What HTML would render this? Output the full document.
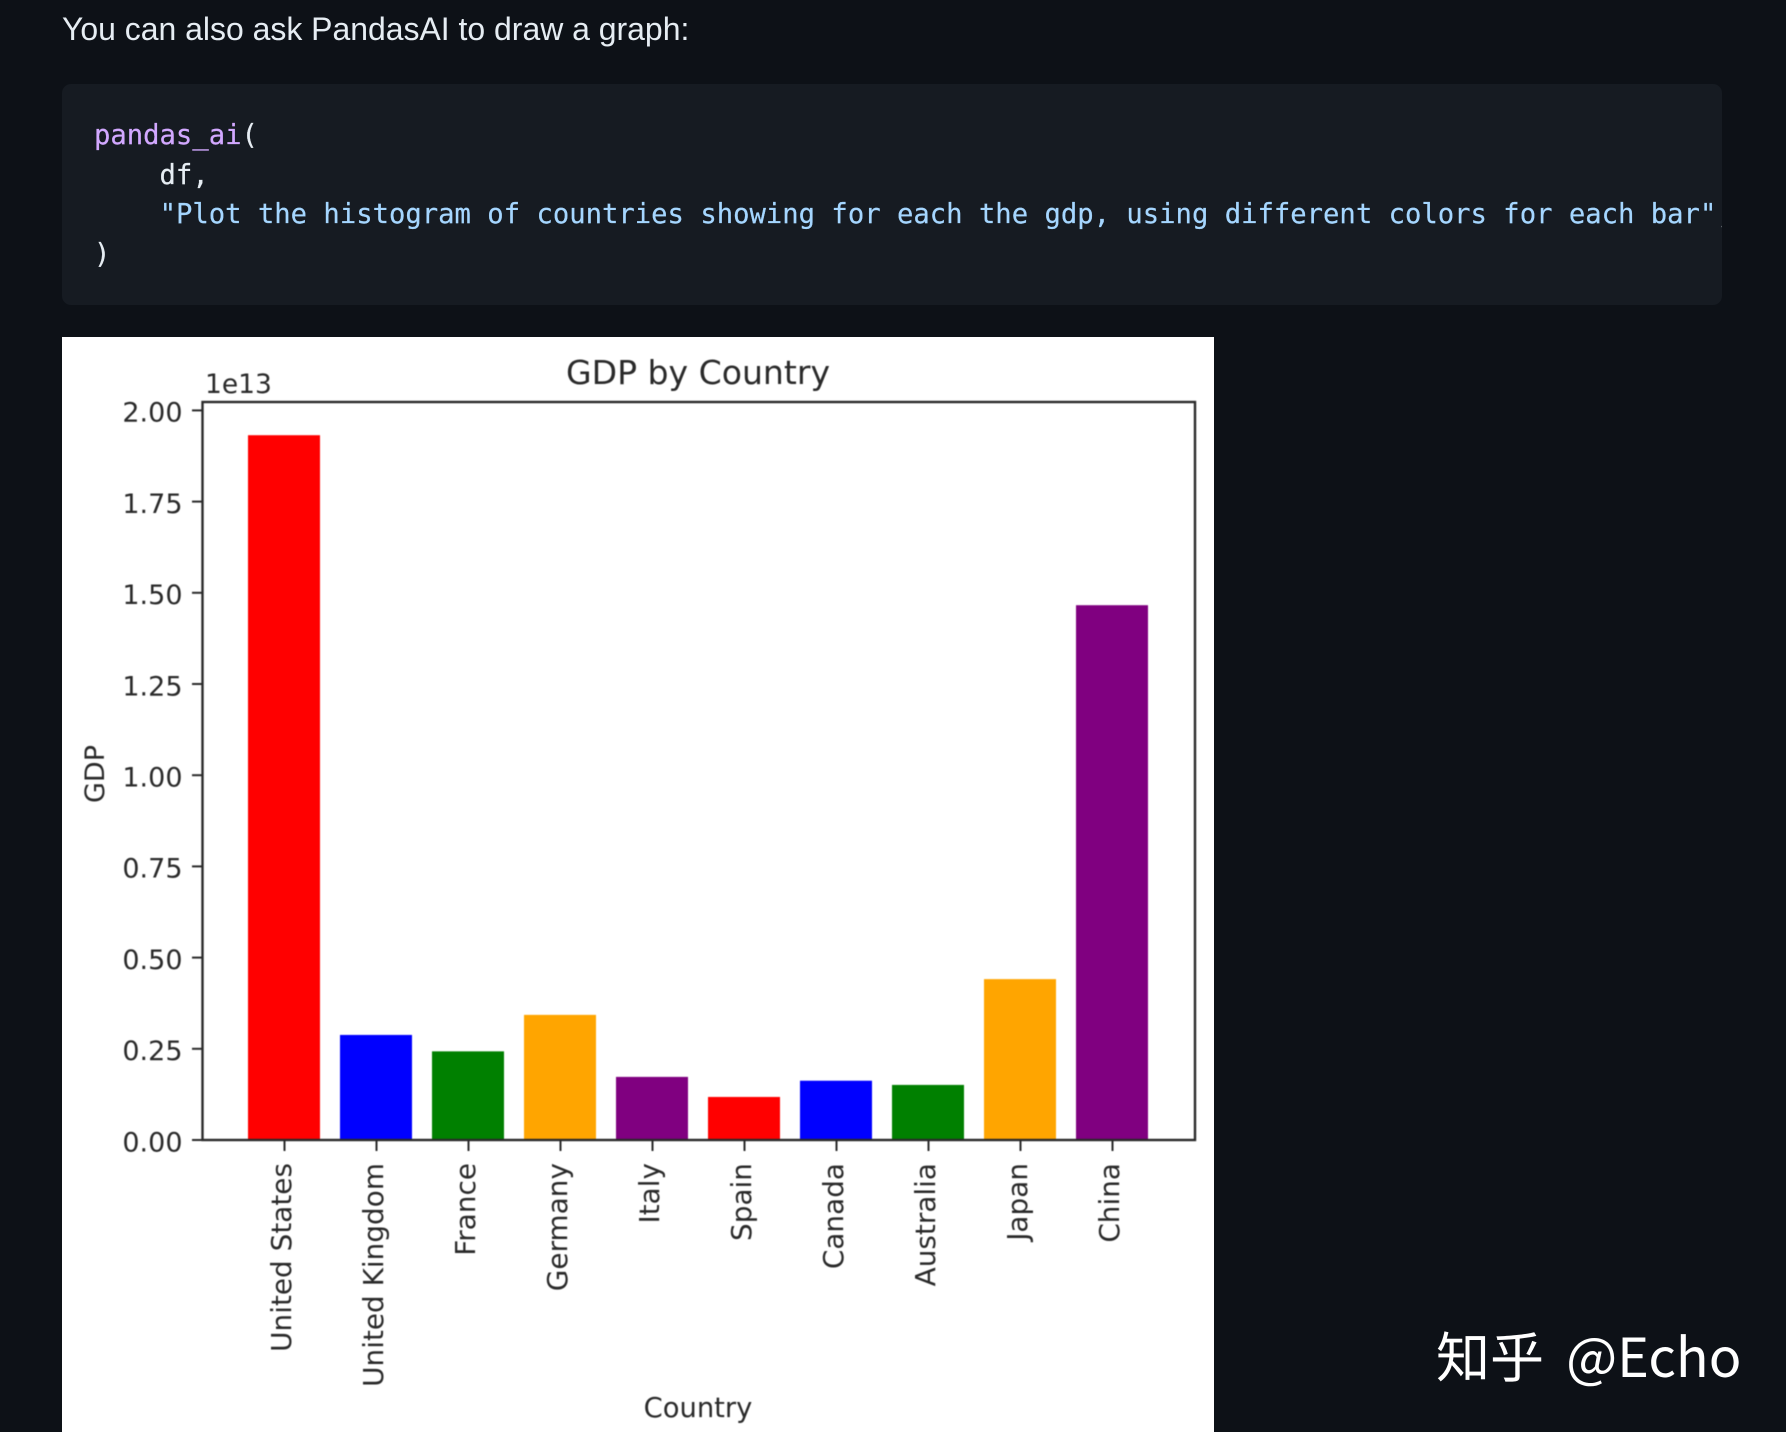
<!DOCTYPE html>
<html lang="en">
<head>
<meta charset="utf-8">
<title>PandasAI GDP chart</title>
<style>
html,body{margin:0;padding:0;width:1786px;height:1432px;overflow:hidden;background:#0d1117}
body{position:relative}
#intro{position:absolute;left:62px;top:9px;font:31.95px/40px "Liberation Sans",sans-serif;color:#e6edf3;white-space:nowrap}
#code{position:absolute;left:62px;top:84px;width:1659.5px;height:220.5px;background:#161b22;border-radius:9px;overflow:hidden}
#code pre{position:absolute;left:32px;top:32px;right:0;margin:0;overflow:hidden;font:27.22px/39.5px "DejaVu Sans Mono","Liberation Mono",monospace;color:#e6edf3;-webkit-text-stroke:.2px currentColor}
.fn{color:#d2a8ff}.str{color:#a5d6ff}
#chart{position:absolute;left:0;top:0}
.soft{filter:blur(.4px)}
#mark{position:absolute;left:1436px;top:1319px;font:400 54px/70px "Noto Sans CJK SC","Liberation Sans",sans-serif;word-spacing:10px;color:#fff;white-space:nowrap}
</style>
</head>
<body>
<div id="intro">You can also ask PandasAI to draw a graph:</div>
<div id="code"><pre><span class="fn">pandas_ai</span>(
    df,
    <span class="str">"Plot the histogram of countries showing for each the gdp, using different colors for each bar"</span>,
)</pre></div>
<svg id="chart" width="1786" height="1432" viewBox="0 0 1786 1432" xmlns="http://www.w3.org/2000/svg">
<rect x="62" y="337" width="1152" height="1095" fill="#fff"/>
<g class="soft">
<g id="bars"></g>
<g id="axes"></g>
<rect x="202.5" y="402" width="992.5" height="738" fill="none" stroke="#2a2a2a" stroke-width="2.4"/>
<g font-family="'DejaVu Sans',sans-serif" fill="#2a2a2a">
<text x="698" y="384" text-anchor="middle" font-size="33.1">GDP by Country</text>
<text x="205" y="393" font-size="26.5">1e13</text>
<text x="698" y="1417" text-anchor="middle" font-size="27.4">Country</text>
<text x="104" y="774" text-anchor="middle" font-size="27" transform="rotate(-90 104 774)">GDP</text>
</g>
</g>
</svg>
<div id="mark">知乎 @Echo</div>
<script>
const countries = ["United States","United Kingdom","France","Germany","Italy","Spain","Canada","Australia","Japan","China"];
const gdp = [1.932e13,0.288e13,0.243e13,0.343e13,0.173e13,0.118e13,0.1625e13,0.151e13,0.441e13,1.466e13];
const barColors = ["red","blue","green","orange","purple","red","blue","green","orange","purple"];
const yTicks = [0,0.25e13,0.5e13,0.75e13,1e13,1.25e13,1.5e13,1.75e13,2e13];
const yTickLabels = ["0.00","0.25","0.50","0.75","1.00","1.25","1.50","1.75","2.00"];

const NS = "http://www.w3.org/2000/svg";
const xScale = function (i) { return 284 + 92 * i; };
const yScale = function (v) { return 1140 - (v / 2e13) * 729.6; };
const barWidth = 72;
const barsLayer = document.getElementById("bars");
const axesLayer = document.getElementById("axes");
const ink = "#2a2a2a";

function make(tag, attrs, parent) {
  const el = document.createElementNS(NS, tag);
  Object.keys(attrs).forEach(function (k) { el.setAttribute(k, attrs[k]); });
  parent.appendChild(el);
  return el;
}

gdp.forEach(function (v, i) {
  const top = yScale(v);
  const bar = make("rect", { x: xScale(i) - barWidth / 2, y: top, width: barWidth, height: yScale(0) - top, fill: barColors[i] }, barsLayer);
  
  

  const tick = make("line", { x1: xScale(i) + 0.5, x2: xScale(i) + 0.5, y1: 1140, y2: 1151, stroke: ink, "stroke-width": 2 }, axesLayer);
  
  

  const bx = xScale(i) + 7;
  const label = make("text", { x: bx, y: 1163, "text-anchor": "end", transform: "rotate(-90 " + bx + " 1163)", "font-family": "'DejaVu Sans',sans-serif", "font-size": 27.9, fill: ink }, axesLayer);
  label.textContent = countries[i];
  
  
});

yTicks.forEach(function (v, i) {
  const y = yScale(v);
  const tick = make("line", { x1: 192, x2: 202.5, y1: y, y2: y, stroke: ink, "stroke-width": 2 }, axesLayer);
  
  

  const label = make("text", { x: 182.5, y: y + 11.3, "text-anchor": "end", "font-family": "'DejaVu Sans',sans-serif", "font-size": 27, fill: ink }, axesLayer);
  label.textContent = yTickLabels[i];
  
  
});
</script>
</body>
</html>
